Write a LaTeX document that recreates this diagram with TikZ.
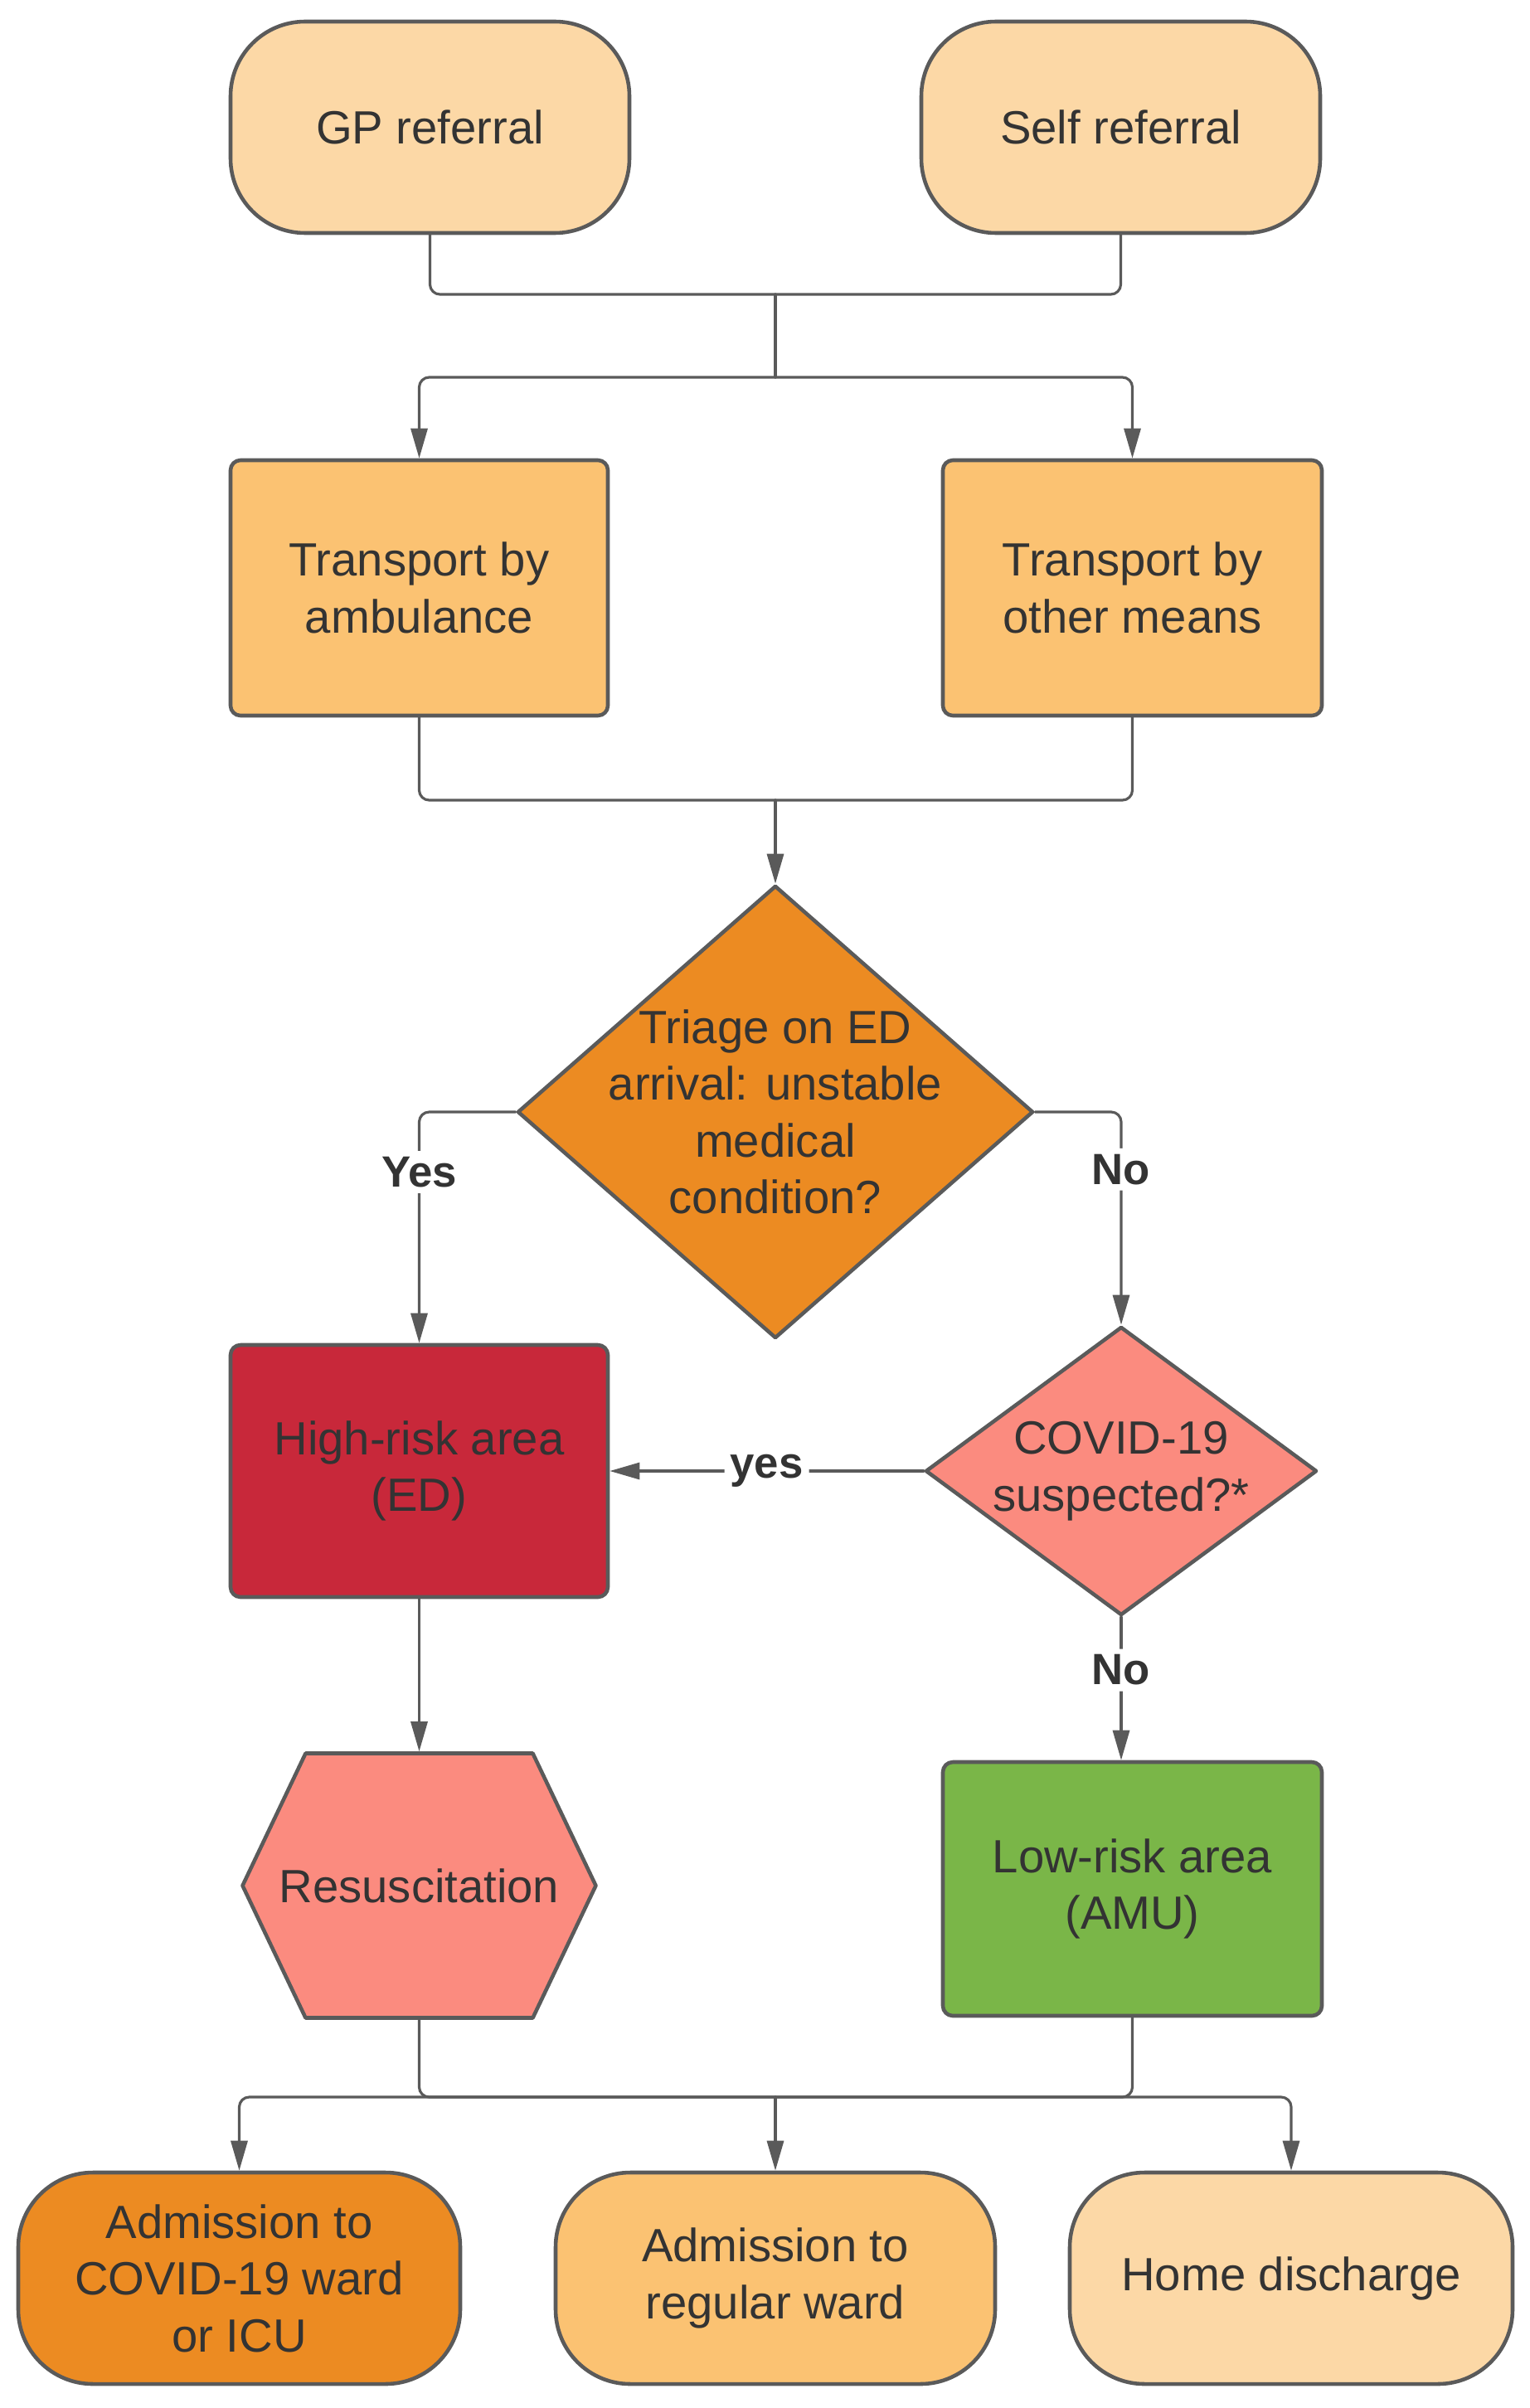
\documentclass[tikz,border=0pt]{standalone}
\usepackage{fontspec}
\setmainfont{Liberation Sans}
\usetikzlibrary{arrows.meta}
\usetikzlibrary{shapes.geometric}
\definecolor{peach}{HTML}{FCD8A6}
\definecolor{apricot}{HTML}{FBC272}
\definecolor{tangerine}{HTML}{EC8B22}
\definecolor{crimson}{HTML}{C8283A}
\definecolor{salmon}{HTML}{FB8B7F}
\definecolor{leaf}{HTML}{7AB648}
\definecolor{edge}{HTML}{5A5A5A}
\definecolor{ink}{HTML}{333333}

\begin{document}
\begin{tikzpicture}[line cap=round,line join=round,>={Triangle[length=0.36cm,width=0.2cm]},x=1cm,y=1cm,
  box/.style={draw=edge,line width=1.3pt,text=ink,align=center,font=\fontsize{16}{19.5}\selectfont,inner sep=0pt},
  terminal/.style={box,rectangle,rounded corners=0.9cm,minimum height=2.55cm},
  process/.style={box,rectangle,rounded corners=0.12cm},
  decision/.style={box,diamond,inner sep=-0.6cm},
  link/.style={draw=edge,line width=0.9pt,rounded corners=0.12cm},
  answer/.style={fill=white,text=ink,font=\fontsize{15}{18}\selectfont\bfseries,inner sep=2pt}]
\useasboundingbox (0,0) rectangle (18.44,-29.04);
%
% referral
\node[terminal,fill=peach,minimum width=4.81cm] (gp) at (5.185,-1.535) {GP referral};
\node[terminal,fill=peach,minimum width=4.81cm] (self) at (13.515,-1.535) {Self referral};
% transport
\node[process,fill=apricot,minimum width=4.55cm,minimum height=3.08cm] (amb) at (5.055,-7.09) {Transport by\\ambulance};
\node[process,fill=apricot,minimum width=4.57cm,minimum height=3.08cm] (other) at (13.655,-7.09) {Transport by\\other means};
% triage
\node[decision,fill=tangerine,minimum width=6.22cm,minimum height=5.46cm] (triage) at (9.35,-13.41) {Triage on ED\\arrival: unstable\\medical\\condition?};
\node[process,fill=crimson,minimum width=4.55cm,minimum height=3.04cm] (risk) at (5.055,-17.74) {High-risk area\\(ED)};
\node[decision,fill=salmon,minimum width=4.72cm,minimum height=3.48cm] (covid) at (13.52,-17.74) {COVID-19\\suspected?*};
% hexagon behind the resuscitation node
\draw[fill=salmon,draw=edge,line width=1.3pt] (2.925,-22.74) -- ++(0.76,1.595) -- ++(2.74,0) -- ++(0.76,-1.595)
  -- ++(-0.76,-1.595) -- ++(-2.74,0) -- cycle;
\node[box,draw=none,minimum width=4.26cm,minimum height=3.19cm] (resus) at (5.055,-22.74) {Resuscitation};
\node[process,fill=leaf,minimum width=4.57cm,minimum height=3.06cm] (low) at (13.655,-22.78) {Low-risk area\\(AMU)};
% outcome
\node[terminal,fill=tangerine,minimum width=5.33cm] (ward) at (2.885,-27.475) {Admission to\\COVID-19 ward\\or ICU};
\node[terminal,fill=apricot,minimum width=5.30cm] (regular) at (9.35,-27.475) {Admission to\\regular ward};
\node[terminal,fill=peach,minimum width=5.34cm] (home) at (15.57,-27.475) {Home discharge};
%
\coordinate (jtop) at (9.35,-3.55);
\coordinate (jsplit) at (9.35,-4.55);
\coordinate (jmid) at (9.35,-9.65);
\coordinate (jbot) at (9.35,-25.29);
%
\draw[link] (gp.south) |- (jtop);
\draw[link] (self.south) |- (jtop);
\draw[link] (jtop) -- (jsplit);
\draw[link,->] (jsplit) -| (amb.north);
\draw[link,->] (jsplit) -| (other.north);
\draw[link] (amb.south) |- (jmid);
\draw[link] (other.south) |- (jmid);
\draw[link,->] (jmid) -- (triage.north);
\draw[link,->] (triage.west) -| node[answer,pos=0.63] {Yes} (risk.north);
\draw[link,->] (triage.east) -| node[answer,pos=0.635] {No} (covid.north);
\draw[link,->] (covid.west) -- node[answer] {yes} (risk.east);
\draw[link,->] (covid.south) -- node[answer,pos=0.37] {No} (covid.south |- low.north);
\draw[link,->] (risk.south) -- (resus.north);
\draw[link] (resus.south) |- (jbot);
\draw[link] (low.south) |- (jbot);
\draw[link,->] (jbot) -| (ward.north);
\draw[link,->] (jbot) -- (regular.north);
\draw[link,->] (jbot) -| (home.north);
\end{tikzpicture}
\end{document}
